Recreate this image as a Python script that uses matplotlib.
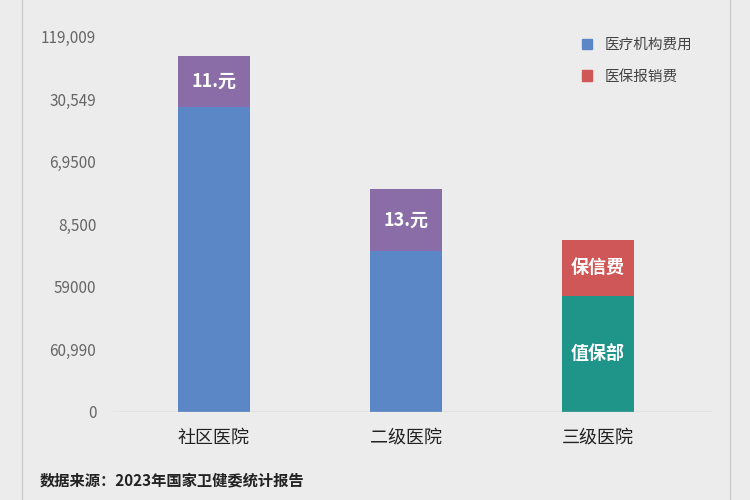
import matplotlib.pyplot as plt
from matplotlib.lines import Line2D
from matplotlib.patches import Patch

plt.rcParams['font.family'] = ['Noto Sans CJK SC', 'DejaVu Sans']

categories = ['社区医院', '二级医院', '三级医院']
base_vals = [4.88, 2.58, 1.86]      # lower segment
top_vals = [0.82, 0.99, 0.89]       # upper segment
base_colors = ['#5b87c6', '#5b87c6', '#1f9488']
top_colors = ['#8a6da6', '#8a6da6', '#cf5757']
top_labels = ['11.元', '13.元', '保信费']
base_labels = ['', '', '值保部']
tick_labels = ['0', '60,990', '59000', '8,500', '6,9500', '30,549', '119,009']
legend_labels = ['医疗机构费用', '医保报销费']

bg = '#ececec'
fig = plt.figure(figsize=(7.5, 5), dpi=100, facecolor=bg)
ax = fig.add_axes((113/750, 88/500, 600/750, 392/500), facecolor=bg)

x = range(len(categories))
ax.bar(x, base_vals, width=0.375, color=base_colors)
ax.bar(x, top_vals, bottom=base_vals, width=0.375, color=top_colors)
for i in x:
    ax.text(i, base_vals[i] + top_vals[i] / 2, top_labels[i], ha='center', va='center',
            color='white', fontsize=13, fontweight='bold')
    if base_labels[i]:
        ax.text(i, base_vals[i] / 2, base_labels[i], ha='center', va='center',
                color='white', fontsize=13, fontweight='bold')

ax.set_xlim(-0.526, 2.6)
ax.set_ylim(0, 6.27)
ax.set_yticks(range(7))
ax.set_yticklabels(tick_labels, color='#666666', fontsize=11)
ax.set_xticks(list(x))
ax.set_xticklabels(categories, fontsize=13, color='#222222')
ax.tick_params(length=0, pad=12)
for s in ax.spines.values():
    s.set_visible(False)
ax.axhline(0, color='#bbbbbb', lw=1)

fig.add_artist(Line2D([22/750, 22/750], [0, 1], color='#cccccc', lw=1))
fig.add_artist(Line2D([730/750, 730/750], [0, 1], color='#cccccc', lw=1))

handles = [Patch(color='#5b87c6'), Patch(color='#cf5757')]
fig.legend(handles, legend_labels, loc='upper right', bbox_to_anchor=(705/750, 475/500),
           frameon=False, fontsize=10.5, handlelength=0.7, handleheight=0.7,
           labelspacing=1.2, labelcolor='#444444')

fig.text(40/750, 20/500, '数据来源：2023年国家卫健委统计报告', fontsize=11,
         fontweight='bold', color='#222222', va='center')

fig.savefig('out.png', dpi=100, facecolor=bg)
